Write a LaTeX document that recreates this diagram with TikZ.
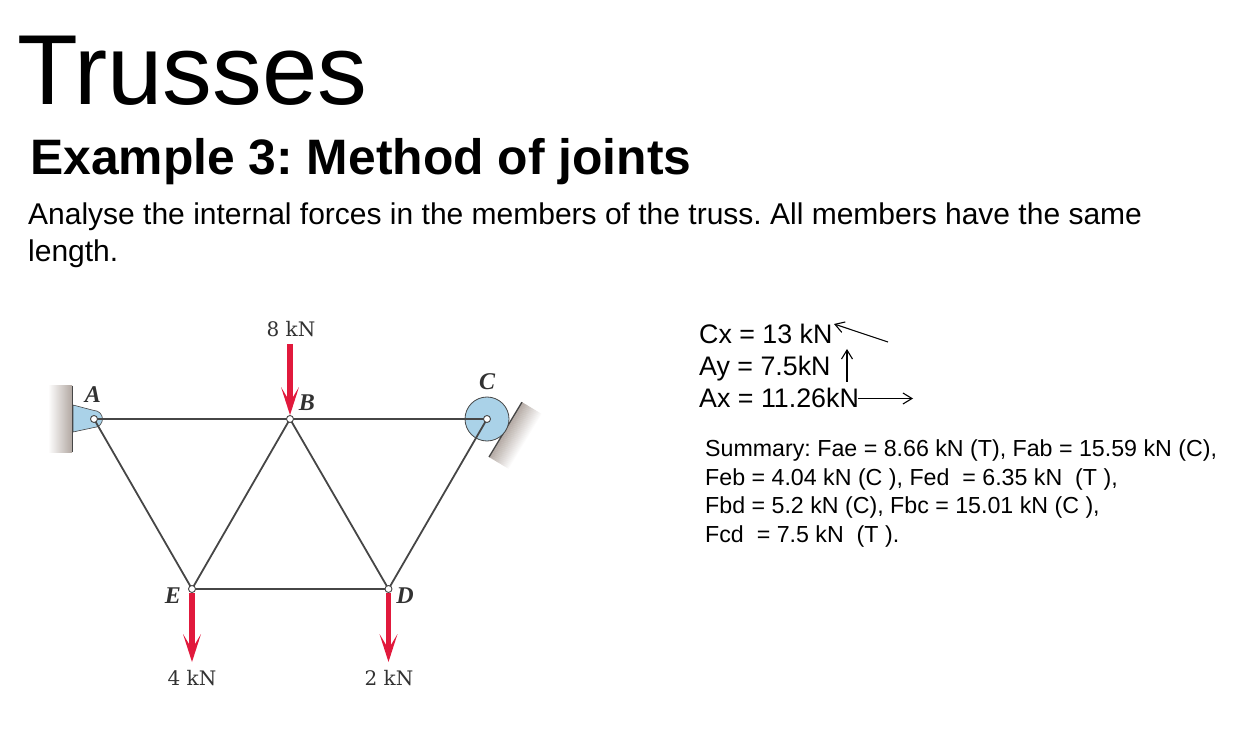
\documentclass[tikz,border=0pt]{standalone}
\usepackage{fontspec}
\setmainfont{Liberation Sans}
\newfontfamily\serifl{DejaVu Serif}
\newfontfamily\seriflabel{Liberation Serif}
\frenchspacing
\usetikzlibrary{arrows.meta}
\definecolor{member}{RGB}{70,70,70}
\definecolor{forcered}{RGB}{225,25,60}
\definecolor{pinblue}{RGB}{170,210,232}
\definecolor{wallgrey}{RGB}{178,168,162}
\definecolor{labelgrey}{RGB}{50,50,50}
\tikzset{
  x=1pt,y=-1pt,
  joint/.style={circle,draw=member,fill=white,line width=0.9pt,minimum size=7pt,inner sep=0pt},
  barmember/.style={draw=member,line width=1.8pt},
  force/.style={draw=forcered,line width=5.2pt,-{Stealth[length=28pt,width=18pt,inset=15pt,line width=0pt]}},
  forcelabel/.style={font=\serifl\fontsize{20}{20}\selectfont,text=labelgrey,inner sep=0pt},
  jointlabel/.style={font=\seriflabel\itshape\bfseries\fontsize{24}{24}\selectfont,text=labelgrey,inner sep=0pt},
  textline/.style={anchor=base west,inner sep=0pt,text=black},
  react/.style={draw=black,line width=1.1pt,-{Straight Barb[length=9pt,width=11pt]}},
  titlefont/.style={font=\fontsize{99.5}{99}\selectfont},
  subfont/.style={font=\bfseries\fontsize{49.8}{50}\selectfont},
  introfont/.style={font=\fontsize{30}{30}\selectfont},
  reactfont/.style={font=\fontsize{26.8}{27}\selectfont},
  sumfont/.style={font=\fontsize{23.2}{23}\selectfont},
}
\begin{document}
\begin{tikzpicture}
\useasboundingbox (0,0) rectangle (1251,743);
% titles
\node[textline,titlefont] (title) at (17,105) {Trusses};
\node[textline,subfont] (sub) at (30,175) {Example 3: Method of joints};
\node[textline,introfont] (intro1) at (28,225) {Analyse the internal forces in the members of the truss. All members have the same};
\node[textline,introfont] (intro2) at (28,262) {length.};
% supports
\shade[left color=white,right color=wallgrey] (48,386) rectangle (72,452);
\draw[line width=1.3pt,draw=member] (72.5,386) -- (72.5,452);
\begin{scope}[shift={(489,457)},rotate=59]
\foreach \i in {0,...,23}{
  \pgfmathsetmacro{\p}{100-\i*100/23}
  \fill[wallgrey!\p!white] (0,\i) rectangle (64,\i+1.3);
}
\draw[draw=member,line width=1.3pt] (0,0) -- (64,0);
\end{scope}
\fill[pinblue,draw=member,line width=0.6pt] (73,405) -- (94,410.5) arc (-90:90:8.5) -- (73,432) -- cycle;
\node[circle,fill=pinblue,draw=member,line width=0.8pt,minimum size=44pt,inner sep=0pt] (roller) at (487,419) {};
% joints
\coordinate (Ac) at (94,419);
\coordinate (Bc) at (290,419);
\coordinate (Cc) at (487,419);
\coordinate (Ec) at (192,589);
\coordinate (Dc) at (388.5,589);
\draw[barmember] (Ac) -- (Bc);
\draw[barmember] (Bc) -- (Cc);
\draw[barmember] (Ec) -- (Dc);
\draw[barmember] (Ac) -- (Ec);
\draw[barmember] (Ec) -- (Bc);
\draw[barmember] (Bc) -- (Dc);
\draw[barmember] (Dc) -- (Cc);
\node[joint] (A) at (Ac) {};
\node[joint] (B) at (Bc) {};
\node[joint] (C) at (Cc) {};
\node[joint] (E) at (Ec) {};
\node[joint] (D) at (Dc) {};
% forces
\coordinate (top8) at (290,344);
\coordinate (end4) at (192,662);
\coordinate (end2) at (388.5,662);
\draw[force] (top8) -- (B.north);
\draw[force] (E.south) -- (end4);
\draw[force] (D.south) -- (end2);
\node[forcelabel] (l8) at (291,329) {8 kN};
\node[forcelabel] (l4) at (192,678) {4 kN};
\node[forcelabel] (l2) at (389,678) {2 kN};
\node[jointlabel] (la) at (93,395) {A};
\node[jointlabel] (lb) at (307,403) {B};
\node[jointlabel] (lc) at (487,382) {C};
\node[jointlabel] (le) at (173,596) {E};
\node[jointlabel] (ld) at (405,596) {D};
% reactions
\node[textline,reactfont] (cx) at (699,344) {Cx = 13 kN};
\node[textline,reactfont] (ay) at (699,376) {Ay = 7.5kN};
\node[textline,reactfont] (ax) at (699,407) {Ax = 11.26kN};
\coordinate (cxs) at (888,342);
\coordinate (cxe) at (834,324);
\coordinate (ays) at (847,382);
\coordinate (aye) at (847,349);
\coordinate (axs) at (858,398.5);
\coordinate (axe) at (913,398.5);
\draw[react] (cxs) -- (cxe);
\draw[react] (ays) -- (aye);
\draw[react] (axs) -- (axe);
% summary
\node[textline,sumfont] (s1) at (705,456) {Summary: Fae = 8.66 kN (T), Fab = 15.59 kN (C),};
\node[textline,sumfont] (s2) at (705,485) {Feb = 4.04 kN (C ), Fed~ = 6.35 kN~ (T ),};
\node[textline,sumfont] (s3) at (705,513) {Fbd = 5.2 kN (C), Fbc = 15.01 kN (C ),};
\node[textline,sumfont] (s4) at (705,542) {Fcd~ = 7.5 kN~ (T ).};
\end{tikzpicture}
\end{document}
